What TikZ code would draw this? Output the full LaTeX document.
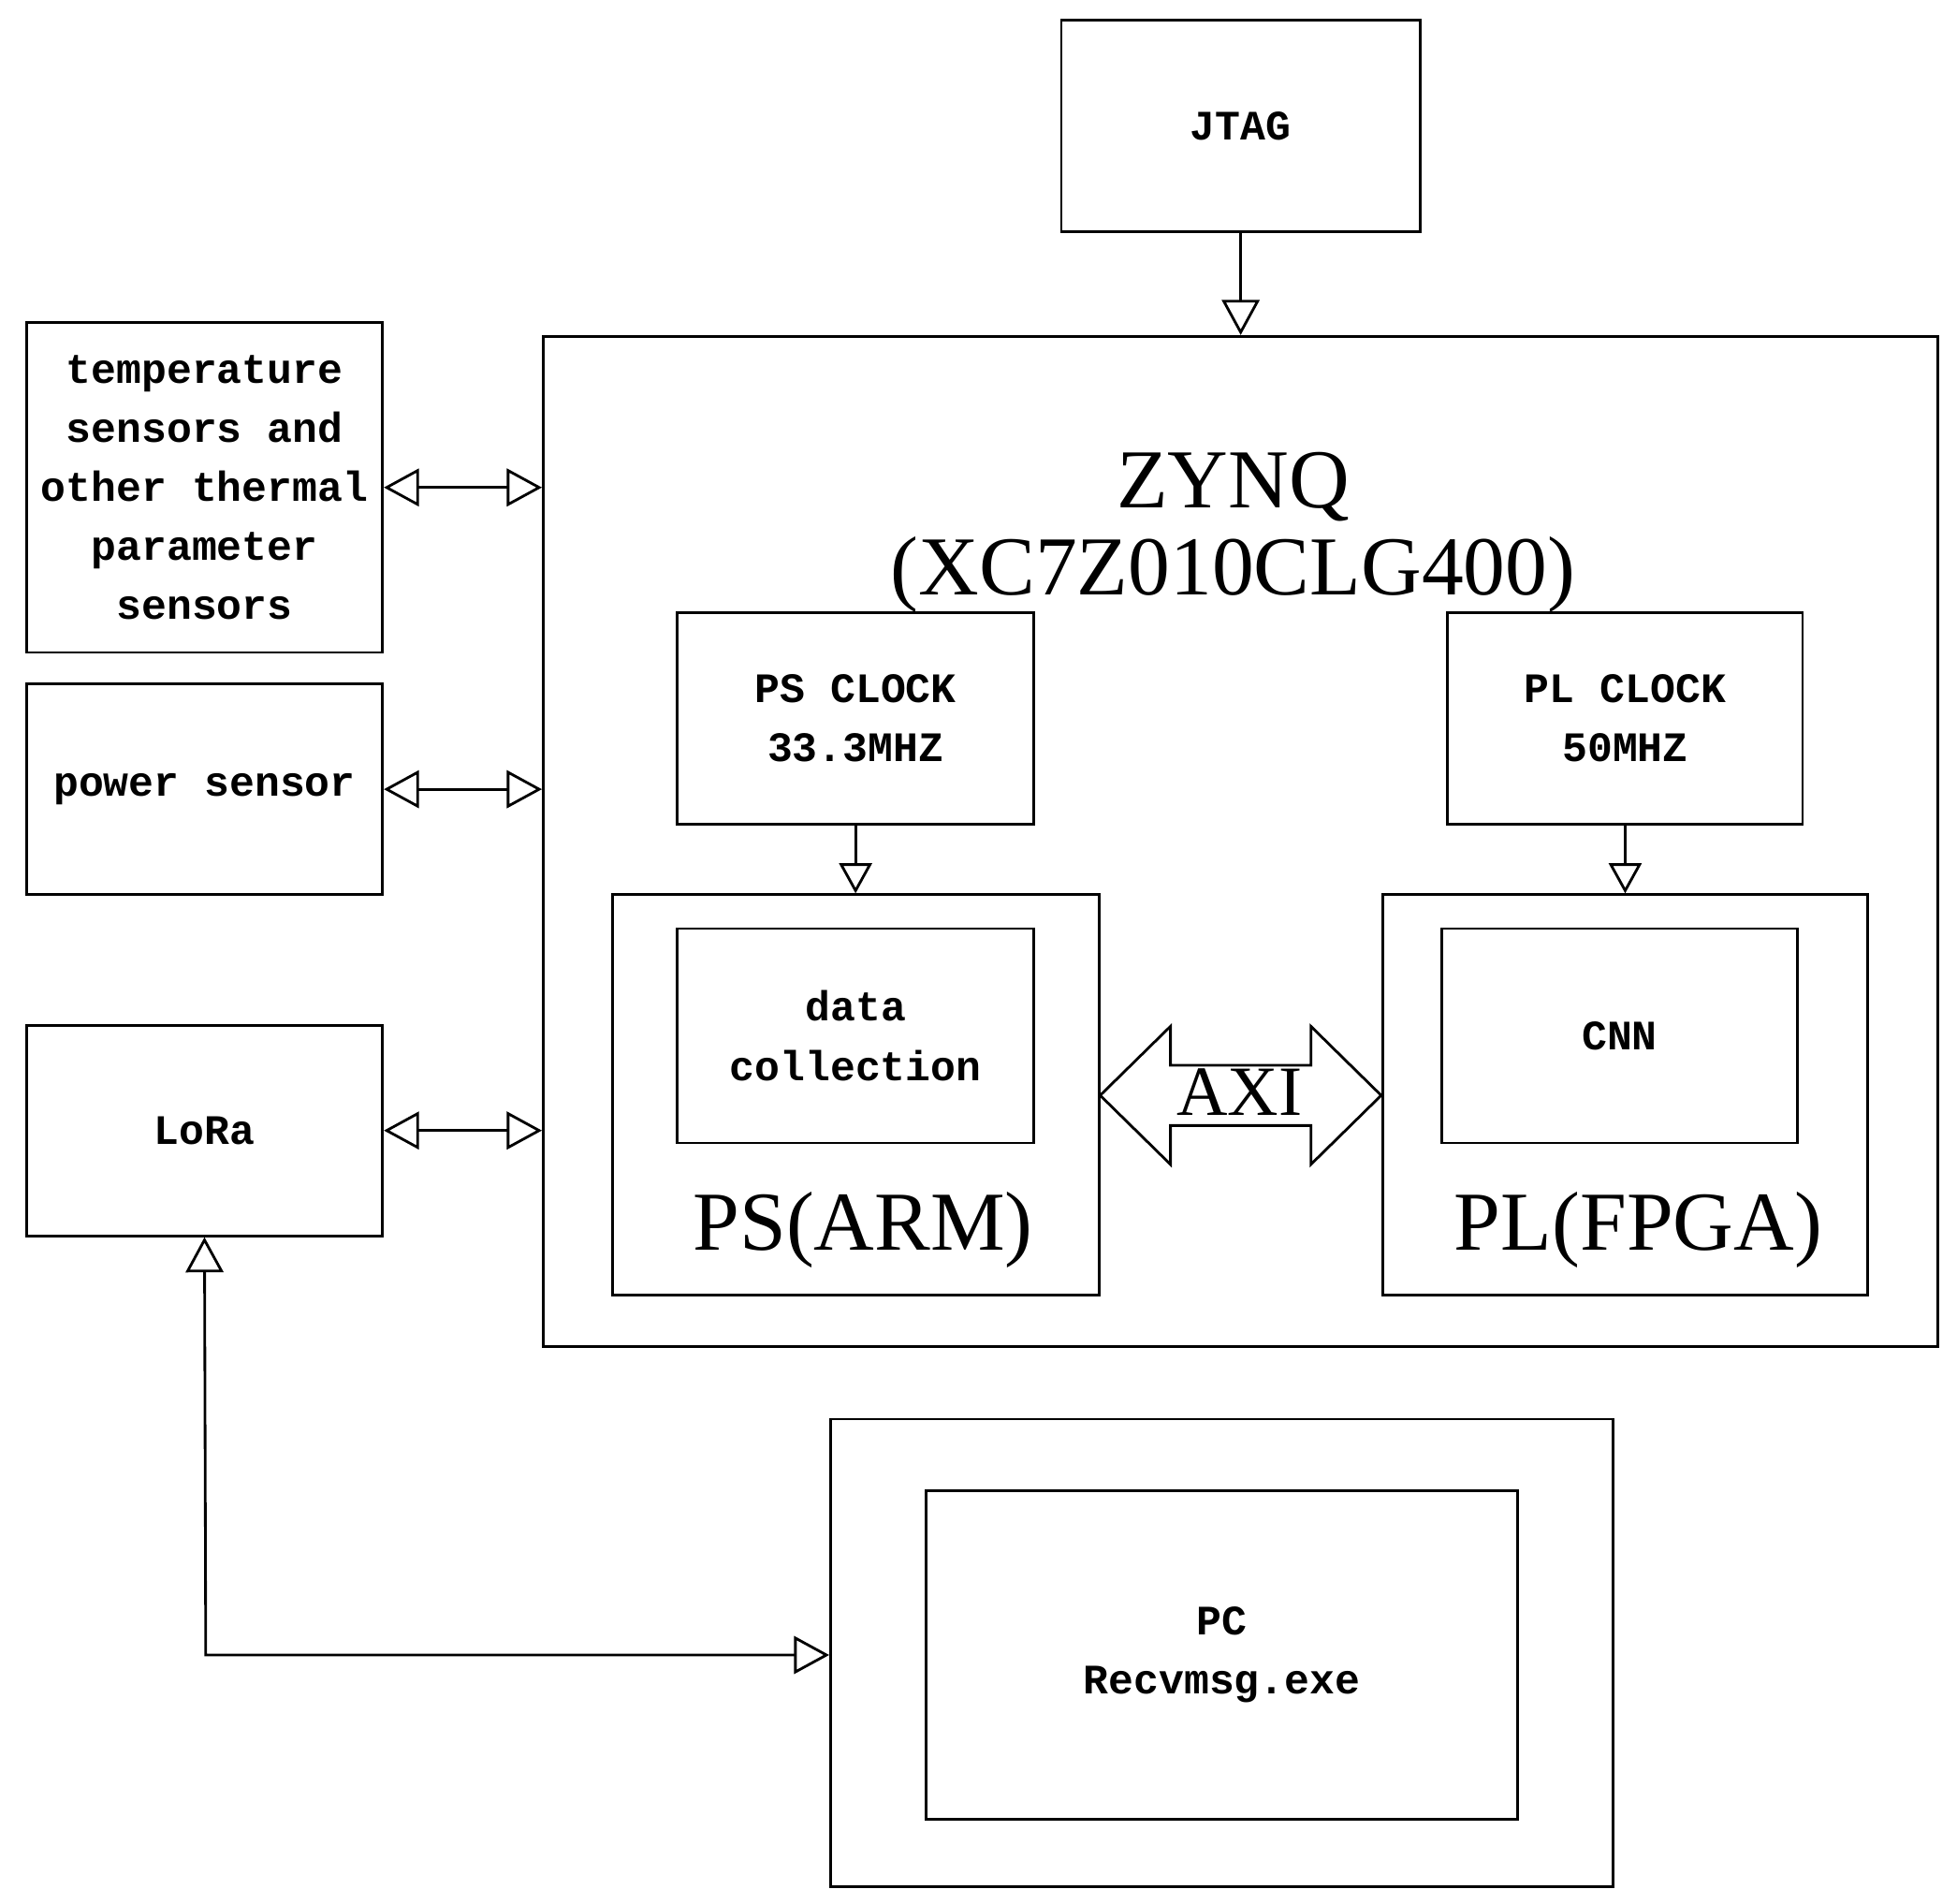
\documentclass[tikz,border=0pt]{standalone}
\usepackage{fontspec}
\setmainfont{Liberation Serif}
\newfontfamily\monof{Liberation Mono}
\usetikzlibrary{arrows.meta}
\begin{document}
\begin{tikzpicture}[x=0.01cm,y=-0.01cm,line width=0.6pt,
 box/.style={draw,inner sep=0pt,rectangle},
 lab/.style={font=\monof\bfseries\fontsize{9.5}{13.4}\selectfont,align=center},
 big/.style={font=\fontsize{19}{20}\selectfont,align=center},
 tip/.style={Triangle[open,length=0.28cm,width=0.3cm]}]
\useasboundingbox (0,0) rectangle (1560,1517);
\newcommand\bx[5]{\node[box,minimum width=#4*0.01cm-0.6pt,minimum height=#5*0.01cm-0.6pt] (#1) at ({(#2+#2+#4)/2},{(#3+#3+#5)/2}) {};}
\bx{jtag}{845}{15}{288}{171}
\bx{zynq}{432}{267}{1114}{807}
\bx{temp}{20}{256}{286}{265}
\bx{power}{20}{544}{286}{170}
\bx{lora}{20}{816}{286}{170}
\bx{psclk}{539}{487}{286}{171}
\bx{plclk}{1153}{487}{285}{171}
\bx{ps}{487}{712}{390}{321}
\bx{dc}{539}{739}{286}{173}
\bx{pl}{1101}{712}{389}{321}
\bx{cnn}{1148}{739}{286}{173}
\bx{pco}{661}{1130}{626}{375}
\bx{pci}{737}{1187}{474}{264}
\node[lab] at (jtag) {JTAG};
\node[lab] at (temp) {temperature\\sensors and\\other thermal\\parameter\\sensors};
\node[lab] at (power) {power sensor};
\node[lab] at (lora) {LoRa};
\node[lab] at (psclk) {PS CLOCK\\33.3MHZ};
\node[lab] at (plclk) {PL CLOCK\\50MHZ};
\node[lab] at (dc) {data\\collection};
\node[lab] at (cnn) {CNN};
\node[lab] at (pci) {PC\\Recvmsg.exe};
\node[big] at (983,388) {ZYNQ};
\node[big] at (983,458) {(XC7Z010CLG400)};
\node[big] at (688,980) {PS(ARM)};
\node[big] at (1306,980) {PL(FPGA)};
\draw[-{Triangle[open,length=0.28cm,width=0.3cm]}] (jtag.south) -- (jtag.south |- zynq.north);
\draw[-{Triangle[open,length=0.24cm,width=0.26cm]}] (psclk.south) -- (psclk.south |- ps.north);
\draw[-{Triangle[open,length=0.24cm,width=0.26cm]}] (plclk.south) -- (plclk.south |- pl.north);
\foreach \n in {temp,power,lora}
 \draw[{Triangle[open,length=0.28cm,width=0.3cm]}-{Triangle[open,length=0.28cm,width=0.3cm]}] (\n.east) -- (zynq.west |- \n.east);
\draw[{Triangle[open,length=0.28cm,width=0.3cm]}-{Triangle[open,length=0.28cm,width=0.3cm]}] (lora.south) -- (164,1319) -- (pco.west |- 0,1319);
\draw (877,873) -- (933,818) -- (933,849) -- (1045,849) -- (1045,818) -- (1101,873) -- (1045,928) -- (1045,897) -- (933,897) -- (933,928) -- cycle;
\node[font=\fontsize{16}{18}\selectfont] at (988,870) {AXI};
\end{tikzpicture}
\end{document}
